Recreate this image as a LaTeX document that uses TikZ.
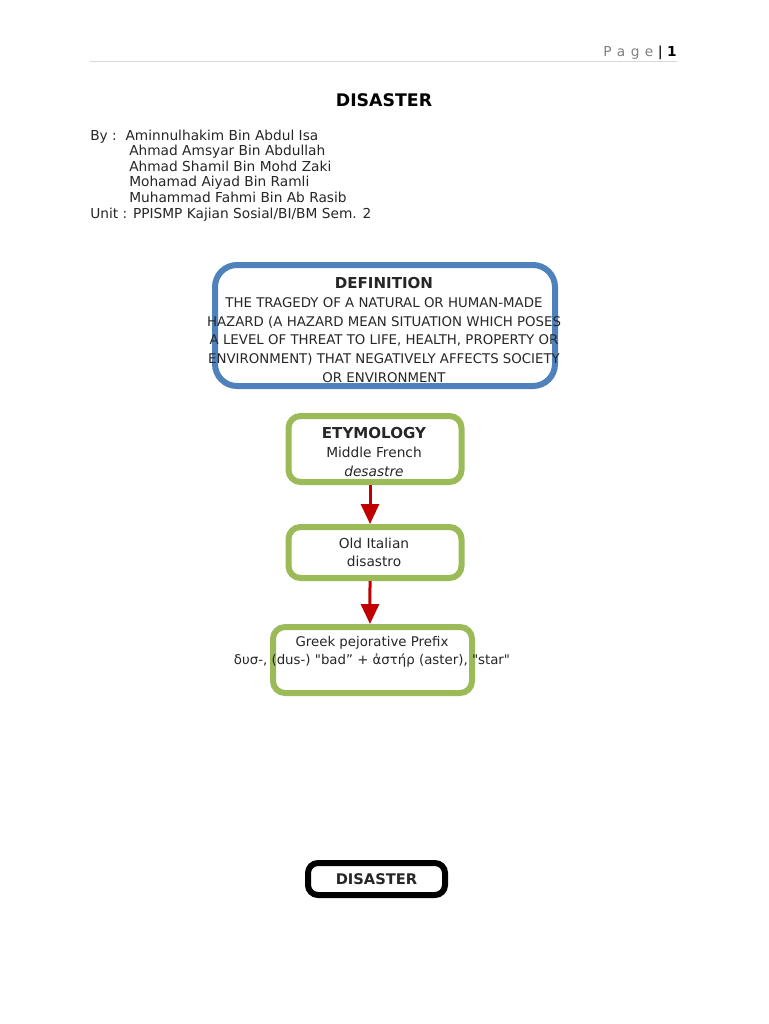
\documentclass[tikz,border=0pt]{standalone}
\usepackage{fontspec}
\setmainfont{DejaVu Sans}
\usetikzlibrary{arrows.meta}
\definecolor{defblue}{HTML}{4F81BD}
\definecolor{etygreen}{HTML}{9BBB59}
\definecolor{arrred}{HTML}{C00000}
\definecolor{hdrgray}{HTML}{7F7F7F}
\definecolor{rulegray}{HTML}{D9D9D9}
\definecolor{txtcol}{HTML}{262626}
\tikzset{
  txt/.style={inner sep=0pt, text=txtcol, font=\fontsize{10.3}{12}\selectfont},
  defbox/.style={draw=defblue, line width=4.5pt, rounded corners=16.5pt},
  greenbox/.style={draw=etygreen, line width=4.5pt, rounded corners=9pt},
  blackbox/.style={draw=black, line width=4.5pt, rounded corners=7.5pt},
  arr/.style={draw=arrred, line width=2.25pt, -{Triangle[length=15pt,width=13.5pt]}, arrred},
}
\begin{document}
\begin{tikzpicture}[x=0.75pt,y=-0.75pt]
\useasboundingbox (0,0) rectangle (768,1024);
% header
\node[txt, anchor=base east] (hdr) at (677,57) {\textcolor{hdrgray}{P\kern0.8pt\ a\kern0.8pt\ g\kern0.8pt\ e}\ \textbf{|}\ \textbf{\color{black}1}};
\coordinate (rl) at (90,62);
\coordinate (rr) at (677,62);
\draw[rulegray, line width=0.75pt] (rl) -- (rr);
% title
\node[txt, font=\fontsize{13}{15}\selectfont\bfseries, text=black] (title) at (384,100) {DISASTER};
% authors
\node[txt, anchor=base west] (by) at (90,140) {By :\ \ Aminnulhakim Bin Abdul Isa};
\node[txt, anchor=base west] (n1) at (129,155.6) {Ahmad Amsyar Bin Abdullah};
\node[txt, anchor=base west] (n2) at (129,171.2) {Ahmad Shamil Bin Mohd Zaki};
\node[txt, anchor=base west] (n3) at (129,186.8) {Mohamad Aiyad Bin Ramli};
\node[txt, anchor=base west] (n4) at (129,202.4) {Muhammad Fahmi Bin Ab Rasib};
\node[txt, anchor=base west] (unit) at (90,218) {Unit : PPISMP Kajian Sosial/BI/BM Sem. 2};
% definition
\node[defbox, minimum width=255pt, minimum height=90.75pt] (defn) at (385,325.5) {};
\node[txt, align=center, font=\fontsize{10}{14.2}\selectfont] (deftext) at (384,330)
  {{\fontsize{11.3}{14.2}\selectfont\bfseries DEFINITION}\\
   THE TRAGEDY OF A NATURAL OR HUMAN-MADE\\
   HAZARD (A HAZARD MEAN SITUATION WHICH POSES\\
   A LEVEL OF THREAT TO LIFE, HEALTH, PROPERTY OR\\
   ENVIRONMENT) THAT NEGATIVELY AFFECTS SOCIETY\\
   OR ENVIRONMENT};
% etymology chain
\node[greenbox, minimum width=129.75pt, minimum height=49.5pt] (ety) at (375,449) {};
\node[greenbox, minimum width=129.75pt, minimum height=38.25pt] (ital) at (375,552.5) {};
\node[greenbox, minimum width=149.25pt, minimum height=49.5pt] (greek) at (372.5,660) {};
\node[txt, align=center, font=\fontsize{10.3}{14.2}\selectfont] (etytext) at (374,452)
  {{\fontsize{11.3}{14.2}\selectfont\bfseries ETYMOLOGY}\\ Middle French\\ \textit{desastre}};
\node[txt, align=center, font=\fontsize{10.3}{13.5}\selectfont] (italtext) at (374,552)
  {Old Italian\\ disastro};
\node[txt, align=center, font=\fontsize{10}{13.5}\selectfont] (greektext) at (372,652)
  {Greek pejorative Prefix\\ δυσ-, (dus-) \textquotedbl bad”\ + ἀστήρ (aster), \textquotedbl star\textquotedbl};
\draw[arr] ([xshift=-3.75pt]ety.south) -- ([xshift=-3.75pt]ital.north);
\draw[arr] ([xshift=-3.75pt]ital.south) -- ([xshift=-1.9pt]greek.north);
% final
\node[blackbox, minimum width=102.75pt, minimum height=24pt, font=\fontsize{11}{13}\selectfont\bfseries, text=txtcol] (final) at (376.5,879) {DISASTER};
\end{tikzpicture}
\end{document}
